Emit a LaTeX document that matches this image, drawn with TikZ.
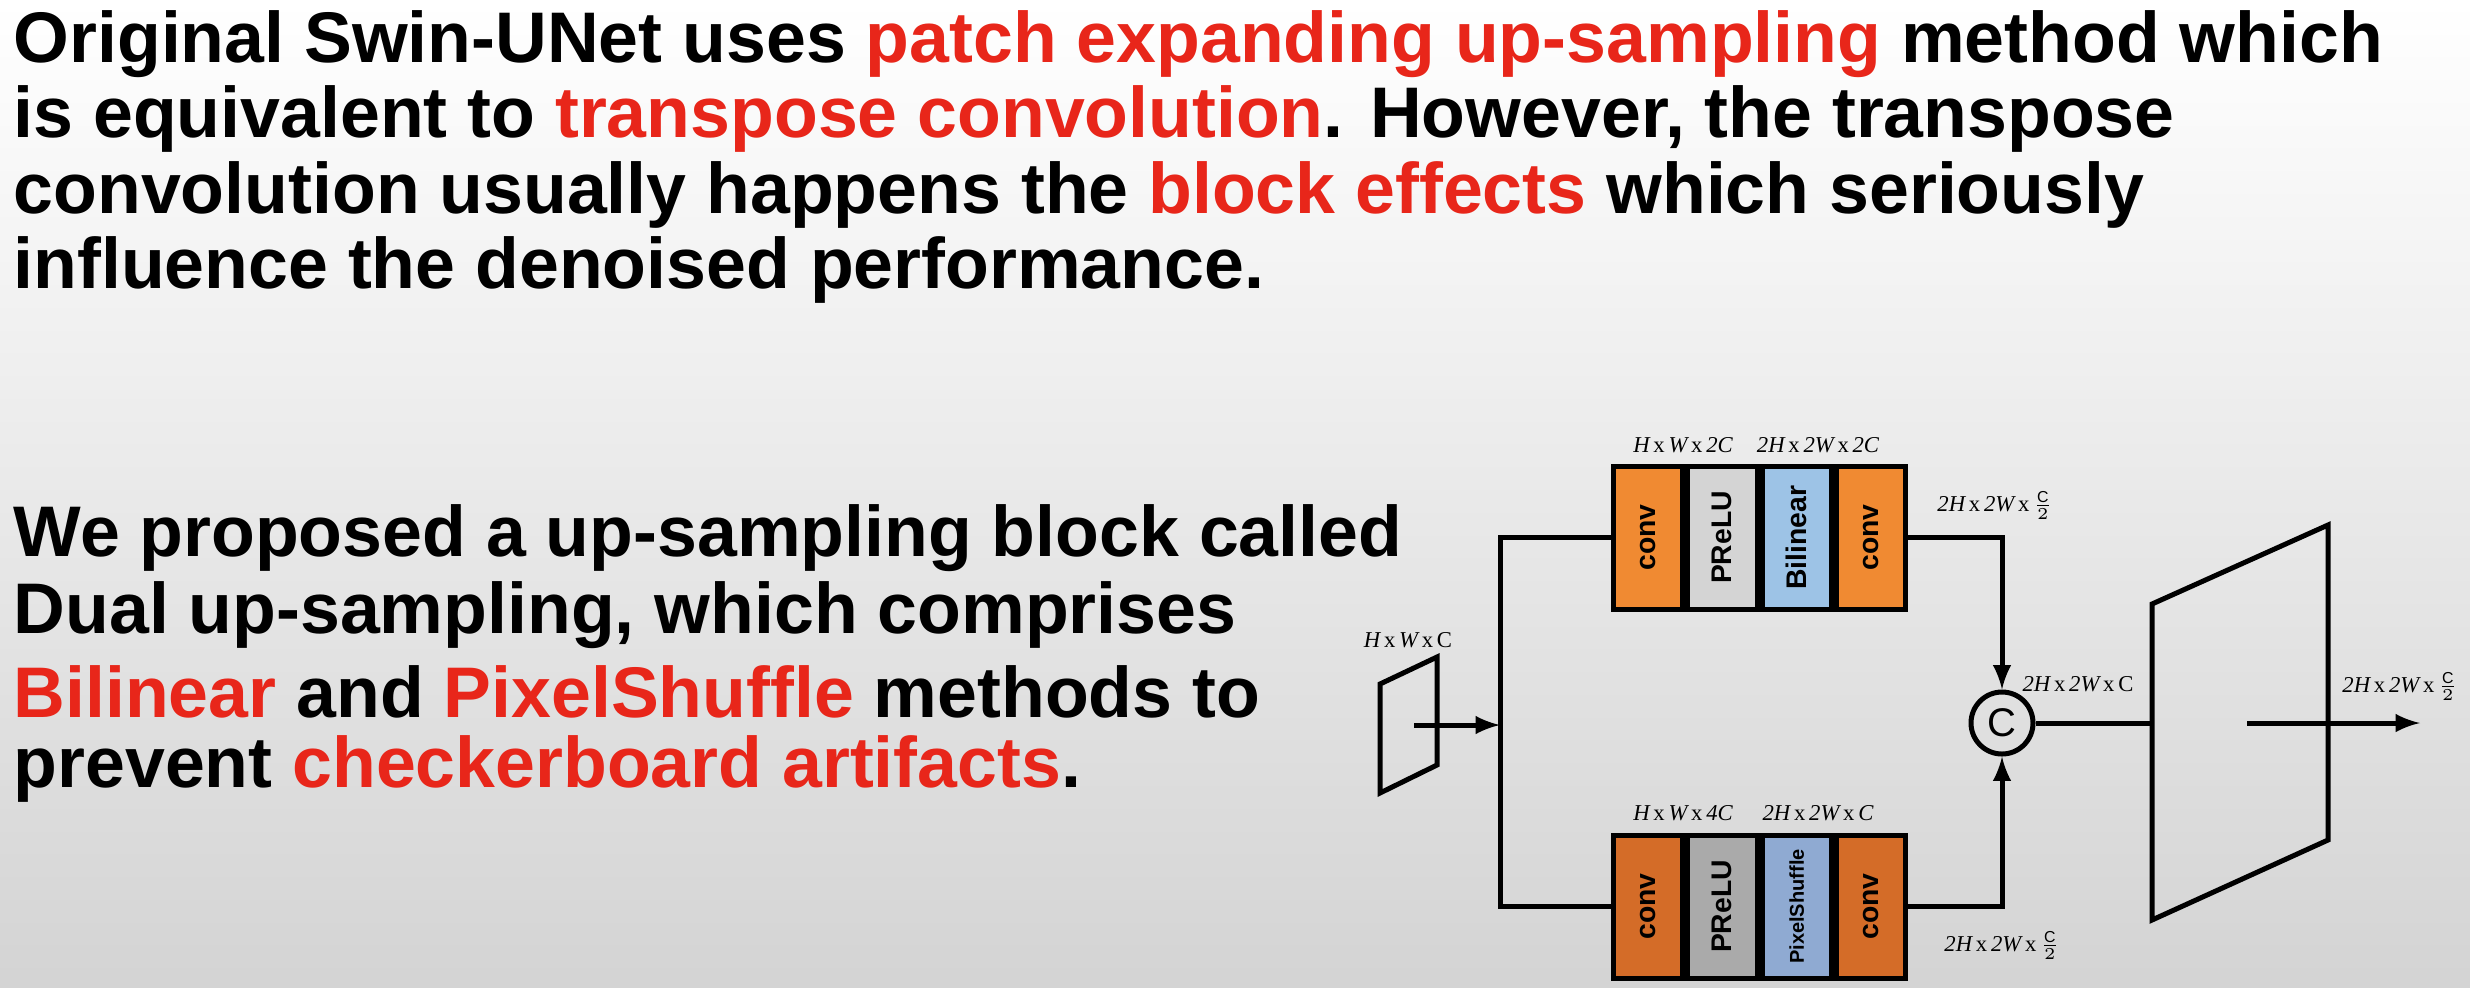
\documentclass[tikz,border=0pt]{standalone}
\usepackage{fontspec}
\setmainfont{Liberation Sans}
\newfontfamily\labfont{Liberation Serif}
\usetikzlibrary{positioning}
\definecolor{hl}{RGB}{232,38,26}
\definecolor{convA}{RGB}{240,138,50}
\definecolor{convB}{RGB}{212,108,40}
\definecolor{reluA}{RGB}{212,212,212}
\definecolor{reluB}{RGB}{170,170,170}
\definecolor{upA}{RGB}{157,195,230}
\definecolor{upB}{RGB}{143,170,210}
\newcommand{\hlt}[1]{\textcolor{hl}{#1}}

\tikzset{
  line/.style={line width=1.5pt},
  para/.style={font=\fontsize{21.5}{24}\bfseries, anchor=west, inner sep=0pt},
  cell/.style={draw, line width=1.5pt, minimum width=20.8pt, minimum height=42.9pt,
    inner sep=0pt, font=\fontsize{8.5}{9}\bfseries},
  dim/.style={font=\fontsize{6.8}{7}\labfont\itshape, inner sep=1pt}
}

\begin{document}
\begin{tikzpicture}[x=0.3pt, y=-0.3pt, >=latex]

    % Background
    \shade[top color=white, bottom color=black!17] (0,0) rectangle (2470,987);
    \useasboundingbox (0,0) rectangle (2470,987);

    % The text on the slide
    \node[para] (l1) at (13,44) {Original Swin-UNet uses \hlt{patch expanding up-sampling} method which};
    \node[para] (l2) at (13,119) {is equivalent to \hlt{transpose convolution}. However, the transpose};
    \node[para] (l3) at (13,195) {convolution usually happens the \hlt{block effects} which seriously};
    \node[para] (l4) at (13,270) {influence the denoised performance.};
    \node[para] (l5) at (13,538) {We proposed a up-sampling block called};
    \node[para] (l6) at (13,615) {Dual up-sampling, which comprises};
    \node[para] (l7) at (13,692) {\hlt{Bilinear} and \hlt{PixelShuffle} methods to};
    \node[para] (l8) at (13,769) {prevent \hlt{checkerboard artifacts}.};

    % Upper branch: bilinear
    \node[cell, fill=convA] (t1) at (1648,537.5) {\rotatebox{90}{conv}};
    \node[cell, fill=reluA, right=0pt of t1] (t2) {\rotatebox{90}{PReLU}};
    \node[cell, fill=upA, right=0pt of t2] (t3) {\rotatebox{90}{Bilinear}};
    \node[cell, fill=convA, right=0pt of t3] (t4) {\rotatebox{90}{conv}};

    % Lower branch: pixel shuffle
    \node[cell, fill=convB] (b1) at (1648,906.5) {\rotatebox{90}{conv}};
    \node[cell, fill=reluB, right=0pt of b1] (b2) {\rotatebox{90}{PReLU}};
    \node[cell, fill=upB, right=0pt of b2, font=\fontsize{6}{6}\bfseries] (b3) {\rotatebox{90}{PixelShuffle}};
    \node[cell, fill=convB, right=0pt of b3] (b4) {\rotatebox{90}{conv}};

    % Input and output feature maps
    \draw[line] (1380,684) -- (1437,657) -- (1437,765) -- (1380,793) -- cycle;
    \draw[line] (2152,604) -- (2328,525) -- (2328,840) -- (2152,920) -- cycle;

    \coordinate (in) at (1414,725);
    \coordinate (sp) at (1500,725);
    \coordinate (out0) at (2247,723);
    \coordinate (out1) at (2420,723);
    \node[draw, circle, line width=1.5pt, minimum size=18.6pt, inner sep=0pt,
      font=\fontsize{12}{12}\selectfont] (cat) at (2002,723) {C};

    \draw[line, ->] (in) -- (sp);
    \draw[line] (t1.west) -| (sp) |- (b1.west);
    \draw[line, ->] (t4.east) -| (cat.north);
    \draw[line, ->] (b4.east) -| (cat.south);
    \draw[line] (cat.east) -- (2152,723);
    \draw[line, ->] (out0) -- (out1);

    % Sizes
    \node[dim] (d0) at (1408,640) {H\,\upshape x\,\itshape W\,\upshape x\,C};
    \node[dim] (d1) at (1683,445) {H\,\upshape x\,\itshape W\,\upshape x\,\itshape 2C};
    \node[dim] (d2) at (1818,445) {2H\,\upshape x\,\itshape 2W\,\upshape x\,\itshape 2C};
    \node[dim] (d3) at (1683,813) {H\,\upshape x\,\itshape W\,\upshape x\,\itshape 4C};
    \node[dim] (d4) at (1818,813) {2H\,\upshape x\,\itshape 2W\,\upshape x\,\itshape C};
    \node[dim] (d5) at (1995,505) {2H\,\upshape x\,\itshape 2W\,\upshape x\,$\frac{\mathrm{C}}{2}$};
    \node[dim] (d6) at (2002,945) {2H\,\upshape x\,\itshape 2W\,\upshape x\,$\frac{\mathrm{C}}{2}$};
    \node[dim] (d7) at (2078,684) {2H\,\upshape x\,\itshape 2W\,\upshape x\,C};
    \node[dim] (d8) at (2400,686) {2H\,\upshape x\,\itshape 2W\,\upshape x\,$\frac{\mathrm{C}}{2}$};
\end{tikzpicture}
\end{document}
